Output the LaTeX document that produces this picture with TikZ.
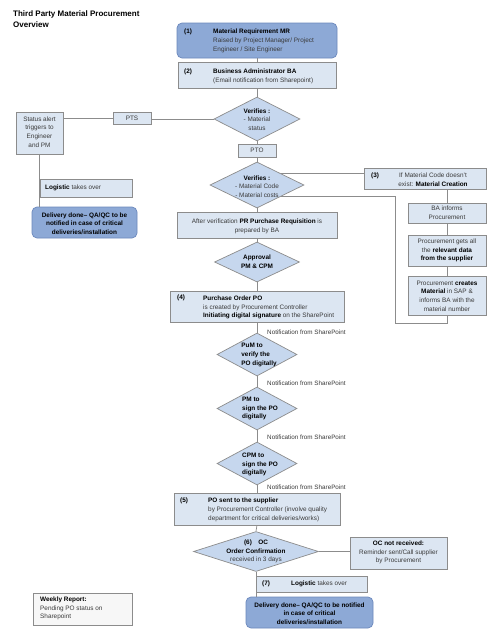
\documentclass[tikz,border=0pt]{standalone}
\usepackage{fontspec}
\setmainfont{Liberation Sans}
\usetikzlibrary{shapes.geometric}
\definecolor{boxfill}{HTML}{DCE6F2}
\definecolor{dmdfill}{HTML}{C6D7EE}
\definecolor{darkfill}{HTML}{8DA9D6}
\definecolor{darkline}{HTML}{6B88BC}
\definecolor{edge}{HTML}{8C8C8C}
\definecolor{txtgray}{HTML}{3A3A3A}
\definecolor{repfill}{HTML}{F7F7F7}
\newcommand{\mybf}[1]{\textcolor{black}{\textbf{#1}}}
\tikzset{
 lightbox/.style={draw=edge, fill=boxfill, line width=0.7pt, inner sep=0pt},
 darkbox/.style={draw=darkline, fill=darkfill, line width=0.7pt, rounded corners=5pt, inner sep=0pt},
 repbox/.style={draw=edge, fill=repfill, line width=0.7pt, inner sep=0pt},
 dmd/.style={draw=edge, fill=dmdfill, line width=0.7pt, diamond, inner sep=0pt},
 txt/.style={inner sep=0pt, font=\fontsize{6.4}{8.7}\selectfont, text=txtgray},
 note/.style={inner sep=0pt, font=\fontsize{6.3}{7.5}\selectfont, text=txtgray, anchor=west},
 conn/.style={draw=edge, line width=0.7pt},
}
\begin{document}
\begin{tikzpicture}[x=1pt,y=-1pt]
\useasboundingbox[fill=white] (0,0) rectangle (495,640);

% title
\node[inner sep=0pt, anchor=north west, align=left, font=\fontsize{8}{10.5}\selectfont\bfseries] (title) at (13,11)
  {Third Party Material Procurement\\Overview};

% main column shapes
\node[darkbox, minimum width=160pt, minimum height=35pt] (mr) at (257,40.5) {};
\node[txt, anchor=west] (mrn) at (184,32) {\mybf{(1)}};
\node[txt, anchor=west, align=left] (mrt) at (213,40.8) {\mybf{Material Requirement MR}\\Raised by Project Manager/ Project\\Engineer / Site Engineer};

\node[lightbox, minimum width=158pt, minimum height=26pt] (ba) at (257,75) {};
\node[txt, anchor=west] (ban) at (184,72) {\mybf{(2)}};
\node[txt, anchor=west, align=left] (bat) at (213,76.5) {\mybf{Business Administrator BA}\\(Email notification from Sharepoint)};

\node[dmd, minimum width=86pt, minimum height=44pt] (d1) at (257,119) {};
\node[txt, align=center] (d1t) at (257,119.5) {\mybf{Verifies :}\\- Material\\status};

\node[lightbox, minimum width=38pt, minimum height=13pt] (pto) at (257,150.5) {};
\node[txt] (ptot) at (257,150.5) {PTO};

\node[dmd, minimum width=94pt, minimum height=46pt] (d2) at (257,185) {};
\node[txt, align=center] (d2t) at (257,186.5) {\mybf{Verifies :}\\- Material Code\\- Material costs};

\node[lightbox, minimum width=160pt, minimum height=26pt] (pr) at (257,225) {};
\node[txt, align=center] (prt) at (257,226) {After verification \mybf{PR Purchase Requisition} is\\prepared by BA};

\node[dmd, minimum width=85pt, minimum height=40pt] (d3) at (257,262) {};
\node[txt, align=center] (d3t) at (257,261.5) {\mybf{Approval}\\\mybf{PM \& CPM}};

\node[lightbox, minimum width=174pt, minimum height=31pt] (po) at (257,306.5) {};
\node[txt, anchor=west] (pon) at (177,298) {\mybf{(4)}};
\node[txt, anchor=west, align=left] (pot) at (203,307.5) {\mybf{Purchase Order PO}\\is created by Procurement Controller\\\mybf{Initiating digital signature} on the SharePoint};

\node[dmd, minimum width=80pt, minimum height=43pt] (d4) at (257,354.5) {};
\node[txt, align=left] (d4t) at (259,355) {\mybf{PuM to}\\\mybf{verify the}\\\mybf{PO digitally}};

\node[dmd, minimum width=80pt, minimum height=43pt] (d5) at (257,408.5) {};
\node[txt, align=left] (d5t) at (260,408.5) {\mybf{PM to}\\\mybf{sign the PO}\\\mybf{digitally}};

\node[dmd, minimum width=80pt, minimum height=43pt] (d6) at (257,463.5) {};
\node[txt, align=left] (d6t) at (260,464.5) {\mybf{CPM to}\\\mybf{sign the PO}\\\mybf{digitally}};

\node[note] (n1) at (267,332) {Notification from SharePoint};
\node[note] (n2) at (267,383) {Notification from SharePoint};
\node[note] (n3) at (267,437.5) {Notification from SharePoint};
\node[note] (n4) at (267,487) {Notification from SharePoint};

\node[lightbox, minimum width=166pt, minimum height=32pt] (ps) at (257,509) {};
\node[txt, anchor=west] (psn) at (180,501) {\mybf{(5)}};
\node[txt, anchor=west, align=left] (pst) at (208,510) {\mybf{PO sent to the supplier}\\by Procurement Controller (involve quality\\department for critical deliveries/works)};

\node[dmd, minimum width=125pt, minimum height=40pt] (d7) at (256,551.5) {};
\node[txt, align=center] (d7t) at (256,551.5) {\mybf{(6)\quad OC}\\\mybf{Order Confirmation}\\received in 3 days};

\node[lightbox, minimum width=97pt, minimum height=32pt] (oc) at (398.5,553) {};
\node[txt, align=center] (oct) at (398.5,552.5) {\mybf{OC not received:}\\Reminder sent/Call supplier\\by Procurement};

\node[lightbox, minimum width=111pt, minimum height=16pt] (lg) at (312,584) {};
\node[txt, anchor=west] (lgn) at (262,584) {\mybf{(7)}};
\node[txt, anchor=west] (lgt) at (291,584) {\mybf{Logistic} takes over};

\node[darkbox, minimum width=127pt, minimum height=31pt] (dd) at (309.5,612.5) {};
\node[txt, align=center] (ddt) at (309.5,613.5) {\mybf{Delivery done-- QA/QC to be notified}\\\mybf{in case of critical}\\\mybf{deliveries/installation}};

% left column
\node[lightbox, minimum width=38pt, minimum height=12pt] (pts) at (132,118) {};
\node[txt] (ptst) at (132,118) {PTS};

\node[lightbox, minimum width=47pt, minimum height=42pt] (sa) at (39.5,133) {};
\node[txt, align=center] (sat) at (39.5,132) {Status alert\\triggers to\\Engineer\\and PM};

\node[lightbox, minimum width=92pt, minimum height=18pt] (lg1) at (86,188) {};
\node[txt, anchor=west] (lg1t) at (45,188) {\mybf{Logistic} takes over};

\node[darkbox, minimum width=105pt, minimum height=31pt] (dl) at (84.5,222.5) {};
\node[txt, align=center] (dlt) at (84.5,223.5) {\mybf{Delivery done-- QA/QC to be}\\\mybf{notified in case of critical}\\\mybf{deliveries/installation}};

% right column
\node[lightbox, minimum width=122pt, minimum height=21pt] (mc) at (425,178.5) {};
\node[txt, anchor=west] (mcn) at (371,175.5) {\mybf{(3)}};
\node[txt, align=center] (mct) at (433,179.5) {If Material Code doesn't\\exist: \mybf{Material Creation}};

\node[lightbox, minimum width=78pt, minimum height=20pt] (bi) at (447,213) {};
\node[txt, align=center] (bit) at (447,213) {BA informs\\Procurement};

\node[lightbox, minimum width=78pt, minimum height=31pt] (pg) at (447,250.5) {};
\node[txt, align=center] (pgt) at (447,250.5) {Procurement gets all\\the \mybf{relevant data}\\\mybf{from the supplier}};

\node[lightbox, minimum width=78pt, minimum height=39pt] (cm) at (447,295.5) {};
\node[txt, align=center] (cmt) at (447,296) {Procurement \mybf{creates}\\\mybf{Material} in SAP \&\\informs BA with the\\material number};

% weekly report
\node[repbox, minimum width=99pt, minimum height=32pt] (wr) at (82.5,609) {};
\node[txt, anchor=west, align=left] (wrt) at (40,608.5) {\mybf{Weekly Report:}\\Pending PO status on\\Sharepoint};

% connectors main column
\draw[conn] (mr.south) -- (ba.north);
\draw[conn] (ba.south) -- (d1.north);
\draw[conn] (d1.south) -- (pto.north);
\draw[conn] (pto.south) -- (d2.north);
\draw[conn] (d2.south) -- (pr.north);
\draw[conn] (pr.south) -- (d3.north);
\draw[conn] (d3.south) -- (po.north);
\draw[conn] (po.south) -- (d4.north);
\draw[conn] (d4.south) -- (d5.north);
\draw[conn] (d5.south) -- (d6.north);
\draw[conn] (d6.south) -- (ps.north);
\draw[conn] (ps.south) -- (d7.north);
\draw[conn] (d7.south) -- (d7.south |- dd.north);
\draw[conn] (d7.east) -- (d7.east -| oc.west);

% connectors left
\draw[conn] (d1.west) -- (d1.west -| pts.east);
\draw[conn] (pts.west) -- (pts.west -| sa.east);
\draw[conn] (sa.south) -- (sa.south |- dl.north);

% connectors right
\draw[conn] (d2.north east) -- (d2.north east -| mc.west);
\draw[conn] (bi.north |- mc.south) -- (bi.north);
\draw[conn] (bi.south) -- (pg.north);
\draw[conn] (pg.south) -- (cm.north);
\coordinate (loopl) at (395,323);
\draw[conn] (cm.south) -- (cm.south |- loopl) -- (loopl) -- (loopl |- d2.south east) -- (d2.south east);
\end{tikzpicture}
\end{document}
